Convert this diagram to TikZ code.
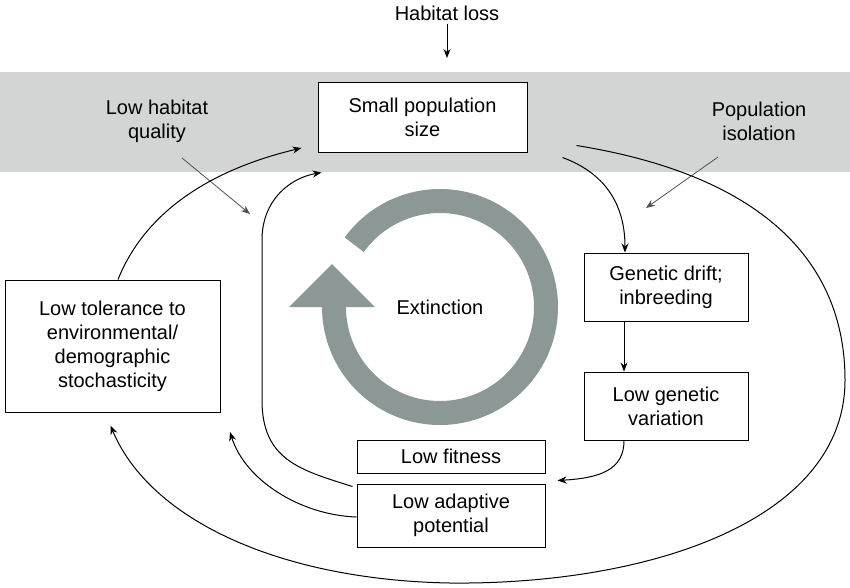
\documentclass[tikz,border=0pt]{standalone}
\usepackage{fontspec}
\setmainfont{Liberation Sans}
\usetikzlibrary{arrows.meta,calc}
\definecolor{band}{RGB}{211,213,212}
\definecolor{ring}{RGB}{140,152,150}
\definecolor{garr}{RGB}{80,80,80}
\begin{document}
\begin{tikzpicture}[x=1pt,y=-1pt,
  box/.style={draw,line width=1pt,fill=white,align=center,inner sep=0pt,font=\fontsize{20}{24}\selectfont},
  lbl/.style={align=center,font=\fontsize{20}{24}\selectfont},
  con/.style={line width=1pt,-{Stealth[length=9pt,width=7pt]}},
  gcon/.style={line width=0.8pt,draw=garr,-{Stealth[length=9pt,width=7pt]}}]
\useasboundingbox (0,0) rectangle (850,587);
\fill[band] (0,72) rectangle (850,172);
\node[lbl] (hl) at (447,13) {Habitat loss};
\node[box,minimum width=209pt,minimum height=70pt] (sps) at (422.5,117) {Small population\\size};
\coordinate (hlb) at (447,58);
\draw[con] (hl.south) -- (hlb);
\node[lbl] (lhq) at (157,121) {Low habitat\\quality};
\node[lbl] (pi) at (759,121) {Population\\isolation};
\coordinate (lhqt) at (250,214);
\coordinate (pit) at (646,208);
\draw[gcon] (182,158) -- (lhqt);
\draw[gcon] (718,157) -- (pit);
\node[box,minimum width=164pt,minimum height=68pt] (gd) at (666,287) {Genetic drift;\\inbreeding};
\node[box,minimum width=164pt,minimum height=68pt] (gv) at (666,406) {Low genetic\\variation};
\node[box,minimum width=188pt,minimum height=33pt] (lf) at (451,456.5) {Low fitness};
\node[box,minimum width=188pt,minimum height=63pt] (lap) at (451,515.5) {Low adaptive\\potential};
\node[box,minimum width=215pt,minimum height=132pt] (lt) at (112.5,346) {Low tolerance to\\environmental/\\demographic\\stochasticity};
% ring
\draw[ring,line width=24pt] (440,307) ++(-144:106) arc[start angle=-144,end angle=180,radius=106];
\fill[ring] (289,307) -- (332,264) -- (375,307) -- cycle;
\node[lbl] (ext) at (440,307) {Extinction};
% anchor points
\coordinate (a1) at ($(sps.south east)+(35,5)$);
\coordinate (a2) at ($(lf.south east)+(12,7)$);
\coordinate (a3) at ($(lap.north west)+(-4,3)$);
\coordinate (a4) at ($(sps.south west)+(4,20)$);
\coordinate (a5) at ($(sps.west |- 0,148)+(-16,0)$);
\coordinate (a6) at ($(sps.south east)+(49,-7)$);
\coordinate (a7) at ($(lt.south west)+(106,13)$);
% connectors
\draw[con] (gd.south -| 624,0) -- (gv.north -| 624,0);
\draw[con] (a1) .. controls (610,175) and (625,210) .. (gd.north -| 625,0);
\draw[con] (gv.south -| 624,0) .. controls (624,470) and (600,478) .. (a2);
\draw[con] (lap.west |- 0,517) .. controls (300,515) and (245,480) .. (230,432);
\draw[con] (a3) .. controls (300,470) and (262,460) .. (262,400) -- (262,240) .. controls (262,200) and (290,178) .. (a4);
\draw[con] (lt.north -| 118,0) .. controls (150,200) and (230,165) .. (a5);
\draw[con] (a6) .. controls (760,175) and (845,260) .. (845,380) .. controls (845,520) and (650,585) .. (450,583) .. controls (280,580) and (150,520) .. (a7);
\end{tikzpicture}
\end{document}
